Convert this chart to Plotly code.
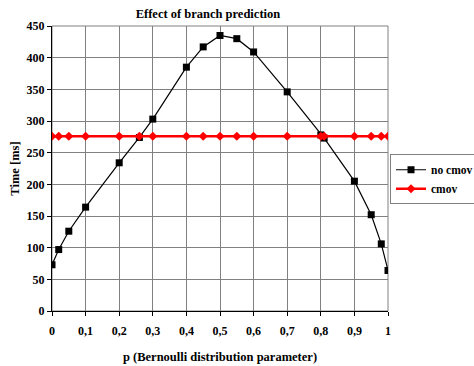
import plotly.graph_objects as go

p_vals = [0, 0.02, 0.05, 0.1, 0.2, 0.26, 0.3, 0.4, 0.45, 0.5, 0.55, 0.6, 0.7, 0.8, 0.81, 0.9, 0.95, 0.98, 1.0]
no_cmov = [73, 97, 126, 164, 234, 274, 303, 385, 417, 435, 430, 409, 346, 278, 273, 205, 152, 106, 64]
cmov = [276] * len(p_vals)

x_tickvals = [0, 0.1, 0.2, 0.3, 0.4, 0.5, 0.6, 0.7, 0.8, 0.9, 1.0]
x_ticktext = ["0", "0,1", "0,2", "0,3", "0,4", "0,5", "0,6", "0,7", "0,8", "0,9", "1"]
y_tickvals = [0, 50, 100, 150, 200, 250, 300, 350, 400, 450]

FAM = "Liberation Serif, Times New Roman, serif"

def f(size=11):
    return dict(family=FAM, size=size, color="black")

fig = go.Figure()
fig.add_trace(go.Scatter(
    x=p_vals, y=no_cmov, name="<b>no cmov</b>", mode="lines+markers",
    line=dict(color="black", width=1.2),
    marker=dict(symbol="square", size=7, color="black"),
))
fig.add_trace(go.Scatter(
    x=p_vals, y=cmov, name="<b>cmov</b>", mode="lines+markers",
    line=dict(color="#ff0000", width=2.5),
    marker=dict(symbol="diamond", size=7, color="#ff0000"),
))

fig.update_layout(
    width=474, height=366,
    margin=dict(l=52, r=86, t=26, b=55, autoexpand=False),
    paper_bgcolor="white", plot_bgcolor="white",
    font=f(11),
    title=dict(text="<b>Effect of branch prediction</b>", x=(52 + 336 / 2) / 474,
               xanchor="center", xref="paper", y=0.975, yanchor="top", font=f(12.5)),
    showlegend=True,
    legend=dict(x=1.006, y=0.55, xanchor="left", yanchor="top",
                bordercolor="#808080", borderwidth=1, bgcolor="white",
                font=f(11.5), tracegroupgap=2, itemwidth=30),
)
fig.update_xaxes(
    range=[0, 1], tickvals=x_tickvals, ticktext=[f"<b>{t}</b>" for t in x_ticktext],
    tickfont=f(12), automargin=False, ticklabelstandoff=5,
    showgrid=True, gridcolor="#808080", gridwidth=1,
    showline=True, linecolor="black", mirror=False,
    ticks="outside", ticklen=4, tickcolor="black",
    zeroline=False,
    title=dict(text="<b>p (Bernoulli distribution parameter)</b>", standoff=14, font=f(12.5)),
)
fig.update_yaxes(
    range=[0, 450], tickvals=y_tickvals, ticktext=[f"<b>{v}</b>" for v in y_tickvals],
    tickfont=f(12), automargin=False,
    showgrid=True, gridcolor="#808080", gridwidth=1,
    showline=True, linecolor="black",
    ticks="outside", ticklen=4, tickcolor="black",
    zeroline=False,
    title=dict(text="<b>Time [ms]</b>", standoff=4, font=f(12.5)),
)
fig.add_shape(type="rect", xref="paper", yref="paper", x0=0, y0=0, x1=1, y1=1,
              line=dict(color="#808080", width=1), layer="below")

fig.write_html("out.html", config={"displayModeBar": False},
               post_script="document.body.style.margin='0';")
